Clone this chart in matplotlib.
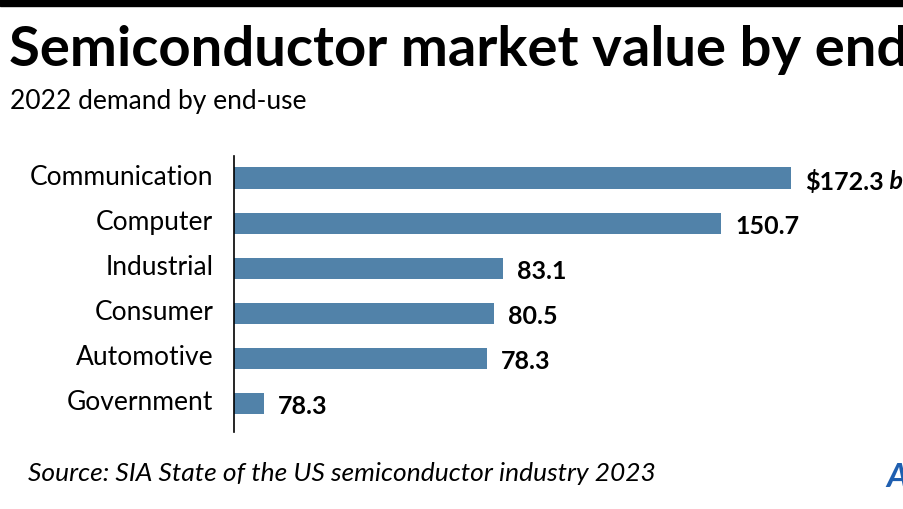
import matplotlib
matplotlib.use("Agg")
import matplotlib.pyplot as plt
import matplotlib.transforms as mtransforms

# data (label text kept as published)
categories = ["Communication", "Computer", "Industrial", "Consumer", "Automotive", "Government"]
values = [172.3, 150.7, 83.1, 80.5, 78.3, 9.2]
value_labels = ["$172.3", "150.7", "83.1", "80.5", "78.3", "78.3"]
unit_label = "b"

title = "Semiconductor market value by end-use"
subtitle = "2022 demand by end-use"
source = "Source: SIA State of the US semiconductor industry 2023"

W, H = 904, 510
plt.rcParams['font.family'] = ['Lato', 'DejaVu Sans']
plt.rcParams['text.parse_math'] = False
fig = plt.figure(figsize=(W / 100, H / 100), dpi=100)
fig.patch.set_facecolor("white")

# top black rule
fig.add_artist(plt.Rectangle((0, 1 - 7 / H), 1, 7 / H, transform=fig.transFigure,
                             color="black", zorder=5))

fig.text(9 / W, 1 - 50 / H, title, fontsize=40.5, fontweight="bold", va="center", ha="left")
fig.text(10 / W, 1 - 102 / H, subtitle, fontsize=19, va="center", ha="left")
fig.text(28 / W, 1 - 474 / H, source, fontsize=19, style="italic", va="center", ha="left")
fig.text(886 / W, 1 - 478 / H, "AFP", fontsize=24, fontweight="bold", style="italic",
         color="#1f5fb0", va="center", ha="left")

x0, x1 = 234, 904
y_top, y_bot = 157, 433
ax = fig.add_axes([x0 / W, 1 - y_bot / H, (x1 - x0) / W, (y_bot - y_top) / H])
ax.set_xlim(0, 172.3 * (x1 - x0) / 557)
ax.set_ylim(5.64, -0.49)

pos = list(range(len(categories)))
ax.barh(pos, values, height=0.47, color="#5182a9")

for i, (p, v, lab) in enumerate(zip(pos, values, value_labels)):
    t = ax.text(v + 4.3, p + 0.06, lab, fontsize=18, fontweight="bold", va="center",
                ha="left", clip_on=False)
    if i == 0:
        ax.annotate(" " + unit_label, xy=(1, 0.5), xycoords=t, fontsize=18,
                    style="italic", fontweight="bold", va="center", ha="left",
                    annotation_clip=False)

ax.set_yticks(pos)
ax.set_yticklabels(categories, fontsize=19)
ax.tick_params(axis="y", length=0, pad=15)
# category names sit a little above the bar centres in the original
shift = mtransforms.ScaledTranslation(0, 4 / 100, fig.dpi_scale_trans)
for lbl in ax.get_yticklabels():
    lbl.set_transform(lbl.get_transform() + shift)
ax.set_xticks([])
for s in ["top", "right", "bottom"]:
    ax.spines[s].set_visible(False)
ax.spines["left"].set_linewidth(1.2)
ax.set_facecolor("none")

fig.savefig("out.png", dpi=100)
